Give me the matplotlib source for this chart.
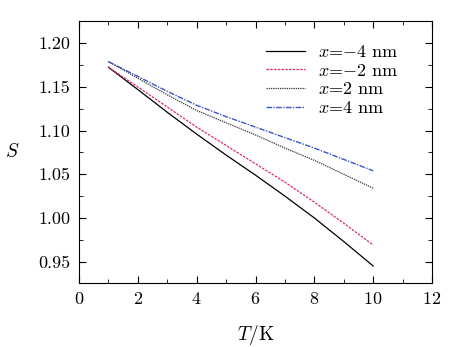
import numpy as np
import matplotlib
matplotlib.use("Agg")
import matplotlib.pyplot as plt
from matplotlib.ticker import MultipleLocator

plt.rcParams['font.family'] = ['cmr10', 'DejaVu Serif']
plt.rcParams['mathtext.fontset'] = 'cm'
plt.rcParams['axes.formatter.use_mathtext'] = True

T = [1, 2, 3, 4, 5, 6, 7, 8, 9, 10]
s_m4 = [1.1725, 1.147, 1.121, 1.096, 1.072, 1.049, 1.025, 1.000, 0.973, 0.945]
s_m2 = [1.1725, 1.150, 1.127, 1.104, 1.083, 1.062, 1.041, 1.018, 0.994, 0.969]
s_p2 = [1.179, 1.160, 1.141, 1.123, 1.109, 1.095, 1.080, 1.066, 1.050, 1.034]
s_p4 = [1.179, 1.162, 1.145, 1.129, 1.116, 1.104, 1.092, 1.080, 1.067, 1.054]
labels = ['$x$=$-$4 nm', '$x$=$-$2 nm', '$x$=2 nm', '$x$=4 nm']

fig = plt.figure(figsize=(4.74, 3.47), dpi=100)
ax = fig.add_axes([0.1667, 0.1844, 0.7447, 0.7551])

ax.plot(T, s_m4, color='black', lw=0.9, ls='-', label=labels[0])
ax.plot(T, s_m2, color='#e0286e', lw=0.9, ls=(0, (2, 1)), label=labels[1])
ax.plot(T, s_p2, color='#333333', lw=0.9, ls=(0, (1, 0.8)), label=labels[2])
ax.plot(T, s_p4, color='#3a55d0', lw=1.0, ls=(0, (4, 1, 1, 1)), label=labels[3])

ax.set_xlim(0, 12)
ax.set_ylim(0.9255, 1.2255)
ax.xaxis.set_major_locator(MultipleLocator(2))
ax.xaxis.set_minor_locator(MultipleLocator(1))
ax.yaxis.set_major_locator(MultipleLocator(0.05))
ax.yaxis.set_minor_locator(MultipleLocator(0.025))
ax.yaxis.set_major_formatter(plt.FormatStrFormatter('%.2f'))
ax.tick_params(which='both', direction='in', top=True, right=True, labelsize=13)
ax.tick_params(which='major', length=5, pad=6)
ax.tick_params(which='minor', length=3)
ax.set_xlabel('$T$/K', fontsize=14, labelpad=11)
ax.set_ylabel('$S$', fontsize=14, rotation=0, labelpad=19, va='center')

ax.legend(loc='upper left', bbox_to_anchor=(0.51, 0.94), frameon=False,
          fontsize=13, handlelength=2.17, handletextpad=0.67,
          labelspacing=0.15, borderaxespad=0.0)

fig.savefig('out.png', dpi=100)
